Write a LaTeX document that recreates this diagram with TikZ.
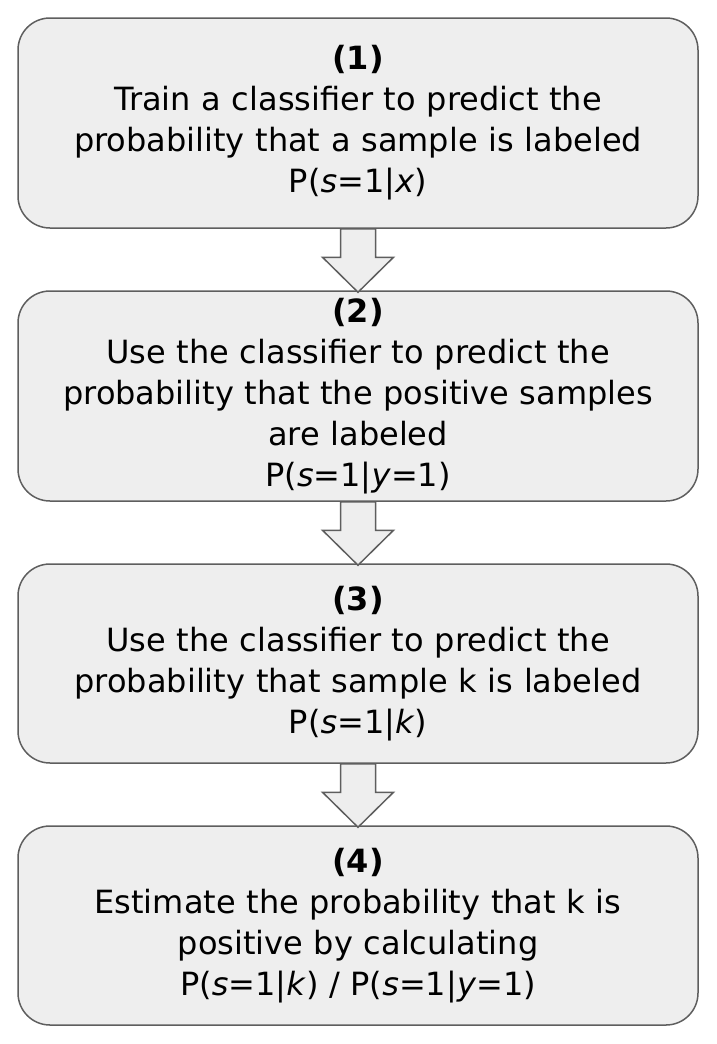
\documentclass[tikz,border=0pt]{standalone}
\usepackage{fontspec}
\setmainfont{DejaVu Sans}
\usetikzlibrary{calc}
\definecolor{boxfill}{HTML}{EEEEEE}
\definecolor{boxline}{HTML}{5E5E5E}
\tikzset{
	stepbox/.style={draw=boxline, fill=boxfill, line width=1.5pt, rounded corners=32pt,
		minimum width=680pt, text width=670pt, align=center, inner sep=0pt,
		font=\fontsize{32}{41}\selectfont},
	blockarrow/.style={draw=boxline, fill=boxfill, line width=1.5pt, line join=miter}
}
\begin{document}
\begin{tikzpicture}[x=1pt, y=-1pt]
	\useasboundingbox (0,0) rectangle (716,1044);

	\node[stepbox, minimum height=210pt] (s1) at (358,123)   {\textbf{(1)}\\Train a classifier to predict the\\probability that a sample is labeled\\P(\textit{s}=1|\textit{x})};
	\node[stepbox, minimum height=210pt] (s2) at (358,396)   {\textbf{(2)}\\Use the classifier to predict the\\probability that the positive samples\\are labeled\\P(\textit{s}=1|\textit{y}=1)};
	\node[stepbox, minimum height=199pt] (s3) at (358,663.5) {\textbf{(3)}\\Use the classifier to predict the\\probability that sample k is labeled\\P(\textit{s}=1|\textit{k})};
	\node[stepbox, minimum height=199pt] (s4) at (358,925.5) {\textbf{(4)}\\Estimate the probability that k is\\positive by calculating\\P(\textit{s}=1|\textit{k}) / P(\textit{s}=1|\textit{y}=1)};

	\draw[blockarrow] ($(s1.south)+(-17.5,0)$) -- ($(s1.south)+(17.5,0)$) -- ($(s2.north)+(17.5,-33)$) -- ($(s2.north)+(35.5,-33)$) -- ($(s2.north)+(0,2)$) -- ($(s2.north)+(-35.5,-33)$) -- ($(s2.north)+(-17.5,-33)$) -- cycle;
	\draw[blockarrow] ($(s2.south)+(-17.5,0)$) -- ($(s2.south)+(17.5,0)$) -- ($(s3.north)+(17.5,-33)$) -- ($(s3.north)+(35.5,-33)$) -- ($(s3.north)+(0,2)$) -- ($(s3.north)+(-35.5,-33)$) -- ($(s3.north)+(-17.5,-33)$) -- cycle;
	\draw[blockarrow] ($(s3.south)+(-17.5,0)$) -- ($(s3.south)+(17.5,0)$) -- ($(s4.north)+(17.5,-33)$) -- ($(s4.north)+(35.5,-33)$) -- ($(s4.north)+(0,2)$) -- ($(s4.north)+(-35.5,-33)$) -- ($(s4.north)+(-17.5,-33)$) -- cycle;

\end{tikzpicture}
\end{document}
